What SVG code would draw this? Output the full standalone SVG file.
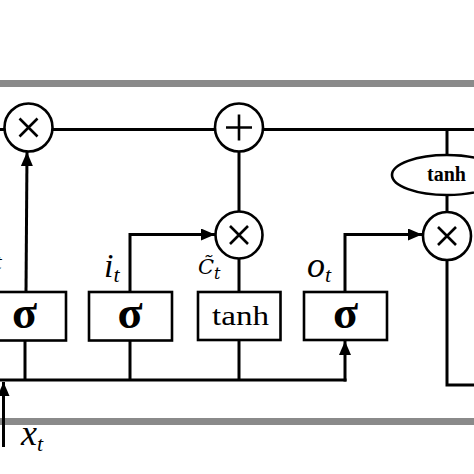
<svg xmlns="http://www.w3.org/2000/svg" width="474" height="474" viewBox="0 0 474 474">
<style>
.ln{stroke:#000;stroke-width:3;fill:none}
.op{stroke:#000;stroke-width:2.6;fill:#fff}
.sym{stroke:#000;stroke-width:2.6;fill:none}
.box{stroke:#000;stroke-width:2.6;fill:#fff}
.band{fill:#8a8a8a}
.sig{font-family:"Liberation Serif",serif;font-weight:bold;font-size:46px;text-anchor:middle}
.lab{font-family:"Liberation Serif",serif;font-style:italic}
</style>
<defs>
<marker id="ah" viewBox="0 0 14 12" refX="14" refY="6" markerWidth="14" markerHeight="12" markerUnits="userSpaceOnUse" orient="auto">
<path d="M0,0 L14,6 L0,12 Z" fill="#000"/>
</marker>
</defs>
<rect width="474" height="474" fill="#fff"/>
<rect class="band" x="0" y="80" width="474" height="7"/>
<rect class="band" x="0" y="418" width="474" height="7"/>
<g id="connectors">
<line class="ln" x1="0" y1="129.5" x2="474" y2="129.5"/>
<line class="ln" x1="26" y1="292" x2="27" y2="152" marker-end="url(#ah)"/>
<line class="ln" x1="239" y1="151" x2="239" y2="212"/>
<line class="ln" x1="239" y1="259" x2="239" y2="292"/>
<polyline class="ln" points="130,292 130,234.5 215,234.5" marker-end="url(#ah)"/>
<polyline class="ln" points="345,292 345,234.5 422,234.5" marker-end="url(#ah)"/>
<line class="ln" x1="447" y1="129.5" x2="447" y2="155"/>
<line class="ln" x1="447" y1="195" x2="447" y2="212"/>
<polyline class="ln" points="447,260 447,385 474,385"/>
<line class="ln" x1="25" y1="341" x2="25" y2="380"/>
<line class="ln" x1="130" y1="340" x2="130" y2="380"/>
<line class="ln" x1="239" y1="340" x2="239" y2="380"/>
<line class="ln" x1="0" y1="380" x2="346.5" y2="380"/>
<line class="ln" x1="345" y1="381.5" x2="345" y2="341" marker-end="url(#ah)"/>
<line class="ln" x1="3.5" y1="447" x2="3.5" y2="382" marker-end="url(#ah)"/>
</g>
<g id="forget-mult">
<circle class="op" cx="28.5" cy="127.5" r="24"/>
<path class="sym" d="M19.5,118.5 L37.5,136.5 M37.5,118.5 L19.5,136.5"/>
</g>
<g id="add">
<circle class="op" cx="239" cy="127.5" r="24"/>
<path class="sym" d="M226,127.5 H252 M239,114.5 V140.5"/>
</g>
<g id="input-mult">
<circle class="op" cx="239" cy="235" r="23.5"/>
<path class="sym" d="M230,226 L248,244 M248,226 L230,244"/>
</g>
<g id="output-mult">
<circle class="op" cx="447" cy="236" r="24"/>
<path class="sym" d="M438,227 L456,245 M456,227 L438,245"/>
</g>
<g id="tanh-ellipse">
<ellipse class="op" cx="447" cy="175" rx="55" ry="20"/>
<text x="446.5" y="181" font-family="Liberation Serif, serif" font-weight="bold" font-size="20" text-anchor="middle">tanh</text>
</g>
<g id="forget-gate">
<rect class="box" x="-17" y="292" width="83" height="48.5"/>
<text class="sig" x="24.5" y="328">σ</text>
<text class="lab" x="-14" y="262" font-size="34">f<tspan font-size="22" dy="7">t</tspan></text>
</g>
<g id="input-gate">
<rect class="box" x="89" y="292" width="83" height="48.5"/>
<text class="sig" x="130" y="328">σ</text>
<text class="lab" x="104" y="277" font-size="34">i<tspan font-size="22" dy="5">t</tspan></text>
</g>
<g id="candidate">
<rect class="box" x="198" y="292" width="82.5" height="48"/>
<text x="240.5" y="325" font-family="Liberation Serif, serif" font-size="27" text-anchor="middle" textLength="57" lengthAdjust="spacingAndGlyphs">tanh</text>
<text x="198" y="274" font-family="DejaVu Serif, serif" font-style="italic" font-size="21">C&#x303;<tspan font-size="16" dy="5">t</tspan></text>
</g>
<g id="output-gate">
<rect class="box" x="304" y="292" width="83" height="48"/>
<text class="sig" x="345.5" y="328">σ</text>
<text class="lab" x="307" y="277" font-size="36">o<tspan font-size="22" dy="5">t</tspan></text>
</g>
<g id="input-x">
<text class="lab" x="21" y="445" font-size="36">x<tspan font-size="22" dy="6">t</tspan></text>
</g>
</svg>
